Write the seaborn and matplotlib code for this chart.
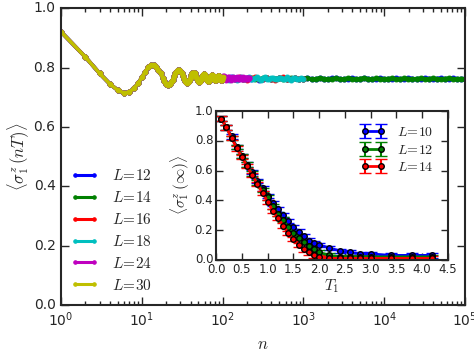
import numpy as np
import matplotlib
matplotlib.use("Agg")
import matplotlib.pyplot as plt
import seaborn as sns

# main panel: early-time curve (n = 1..100), same for every L
n_early = np.arange(1, 101)
sigma_early = [
    0.920, 0.835, 0.780, 0.745, 0.724, 0.714, 0.718, 0.730, 0.747, 0.767,
    0.786, 0.801, 0.809, 0.809, 0.803, 0.793, 0.780, 0.766, 0.753, 0.745,
    0.742, 0.744, 0.750, 0.759, 0.770, 0.780, 0.787, 0.791, 0.791, 0.788,
    0.781, 0.772, 0.763, 0.755, 0.750, 0.748, 0.750, 0.754, 0.760, 0.767,
    0.774, 0.780, 0.783, 0.783, 0.780, 0.775, 0.769, 0.763, 0.757, 0.753,
    0.752, 0.753, 0.756, 0.761, 0.766, 0.771, 0.775, 0.778, 0.778, 0.776,
    0.772, 0.768, 0.763, 0.759, 0.756, 0.755, 0.756, 0.758, 0.762, 0.766,
    0.770, 0.773, 0.775, 0.775, 0.773, 0.771, 0.767, 0.763, 0.760, 0.758,
    0.757, 0.758, 0.760, 0.762, 0.766, 0.769, 0.771, 0.773, 0.773, 0.771,
    0.769, 0.765, 0.763, 0.760, 0.759, 0.758, 0.759, 0.761, 0.764, 0.767,
]

# late-time tails
tail_L12 = [
    0.763, 0.767, 0.760, 0.762, 0.766, 0.761, 0.763, 0.765, 0.759, 0.763,
    0.765, 0.762, 0.760, 0.764, 0.766, 0.761, 0.762, 0.764, 0.760, 0.763,
    0.765, 0.762, 0.761, 0.764, 0.762, 0.760, 0.764, 0.765, 0.762, 0.761,
    0.763, 0.765, 0.762, 0.761, 0.764, 0.763, 0.761, 0.762, 0.765, 0.762,
    0.761, 0.763, 0.764, 0.762, 0.761, 0.764, 0.763, 0.761, 0.762, 0.764,
    0.763, 0.762, 0.763, 0.764, 0.761, 0.763, 0.764, 0.762, 0.762, 0.763,
]
tail_L14 = [
    0.765, 0.761, 0.763, 0.766, 0.760, 0.762, 0.765, 0.763, 0.760, 0.764,
    0.766, 0.761, 0.762, 0.765, 0.762, 0.760, 0.764, 0.765, 0.761, 0.763,
    0.764, 0.761, 0.762, 0.765, 0.763, 0.761, 0.763, 0.764, 0.761, 0.762,
    0.764, 0.763, 0.761, 0.763, 0.765, 0.762, 0.761, 0.764, 0.763, 0.762,
    0.763, 0.764, 0.761, 0.762, 0.764, 0.763, 0.761, 0.763, 0.764, 0.762,
    0.762, 0.764, 0.762, 0.761, 0.763, 0.764, 0.762, 0.762, 0.763, 0.762,
]
tail_L16 = [
    0.766, 0.760, 0.763, 0.768, 0.761, 0.759, 0.765, 0.767, 0.760, 0.762,
    0.766, 0.763, 0.759, 0.764, 0.767, 0.761, 0.762, 0.765, 0.763, 0.760,
]
tail_L18 = [
    0.768, 0.762, 0.759, 0.765, 0.769, 0.763, 0.758, 0.764, 0.768, 0.762,
    0.760, 0.766, 0.767, 0.761, 0.760, 0.765, 0.768, 0.763, 0.759, 0.764,
    0.767, 0.762, 0.760, 0.765, 0.766, 0.761, 0.761, 0.766, 0.764, 0.760,
    0.763, 0.767, 0.762, 0.759, 0.764, 0.766, 0.761, 0.762, 0.765, 0.763,
]
n_tail_L24 = np.arange(102, 216, 3)
tail_L24 = [
    0.770, 0.770, 0.764, 0.758, 0.760, 0.767, 0.769, 0.765, 0.759, 0.760,
    0.766, 0.769, 0.764, 0.760, 0.761, 0.766, 0.768, 0.764, 0.760, 0.761,
    0.766, 0.767, 0.764, 0.761, 0.762, 0.766, 0.767, 0.764, 0.761, 0.762,
    0.765, 0.766, 0.764, 0.762, 0.762, 0.765, 0.766, 0.764,
]

sizes = [12, 14, 16, 18, 24, 30]
colors = ["b", "g", "r", "c", "m", "y"]
tails = {12: (1e5, tail_L12), 14: (1e5, tail_L14), 16: (1e3, tail_L16),
         18: (1e3, tail_L18)}

# inset: infinite-time value vs T1
T1 = [0.1, 0.2, 0.3, 0.4, 0.5, 0.6, 0.7, 0.8, 0.9, 1.0,
      1.1, 1.2, 1.3, 1.4, 1.5, 1.6, 1.7, 1.8, 1.9, 2.0,
      2.2, 2.4, 2.6, 2.8, 3.0, 3.4, 3.8, 4.2]
inf_L10 = [0.95, 0.89, 0.83, 0.76, 0.70, 0.64, 0.59, 0.53, 0.48, 0.43,
           0.38, 0.34, 0.30, 0.26, 0.22, 0.19, 0.16, 0.13, 0.11, 0.10,
           0.08, 0.06, 0.05, 0.04, 0.04, 0.03, 0.03, 0.03]
inf_L12 = [0.95, 0.89, 0.82, 0.76, 0.70, 0.64, 0.58, 0.52, 0.47, 0.42,
           0.36, 0.31, 0.27, 0.22, 0.18, 0.15, 0.12, 0.09, 0.07, 0.05,
           0.03, 0.02, 0.02, 0.02, 0.02, 0.02, 0.02, 0.02]
inf_L14 = [0.95, 0.89, 0.82, 0.75, 0.69, 0.63, 0.57, 0.51, 0.45, 0.39,
           0.33, 0.28, 0.23, 0.18, 0.14, 0.10, 0.07, 0.05, 0.03, 0.02,
           0.01, 0.01, 0.01, 0.01, 0.01, 0.01, 0.01, 0.01]
err = 0.015
inset_sizes = [10, 12, 14]
inset_colors = ["b", "g", "r"]

plt.style.use("classic")
sns.set_style("ticks", {"xtick.direction": "in", "ytick.direction": "in"})
plt.rcParams["font.family"] = ["DejaVu Sans"]
plt.rcParams["mathtext.fontset"] = "cm"

fig = plt.figure(figsize=(4.74, 3.55), dpi=100, facecolor="white")
ax = fig.add_axes([0.129, 0.141, 0.852, 0.836])

for L, c in zip(sizes, colors):
    if L in tails:
        nmax, vals = tails[L]
        n_t = np.geomspace(100, nmax, len(vals) + 1)[1:]
    elif L == 24:
        n_t, vals = n_tail_L24, tail_L24
    else:
        n_t, vals = [], []
    n_all = np.concatenate([n_early, n_t])
    v_all = np.concatenate([sigma_early, vals])
    sns.lineplot(x=n_all, y=v_all, ax=ax, color=c, lw=2.6, marker=".",
                 markersize=7, markeredgecolor=c, sort=False,
                 label=rf"$L\!=\!{L}$")

ax.set_xscale("log")
ax.set_xlim(1, 1e5)
ax.set_ylim(0, 1.0)
ax.set_yticks([0.0, 0.2, 0.4, 0.6, 0.8, 1.0])
ax.tick_params(which="both", direction="in", top=True, right=True,
               labelsize=10)
ax.tick_params(which="major", length=6, width=1)
ax.tick_params(which="minor", length=3, width=1)
for s in ax.spines.values():
    s.set_linewidth(1.5)
ax.set_xlabel(r"$n$", fontsize=12, labelpad=4)
ax.set_ylabel(r"$\langle\sigma_1^z\,(nT)\rangle$", fontsize=12, labelpad=2)
leg = ax.legend(loc="lower left", bbox_to_anchor=(-0.01, -0.005),
                frameon=False, fontsize=11, numpoints=2, handlelength=1.8,
                handletextpad=0.9, labelspacing=0.45)
for h in leg.get_lines():
    h.set_linewidth(2.2)
    h.set_markersize(5)

# inset
ins = fig.add_axes([0.456, 0.268, 0.489, 0.419])
for L, c, vals in zip(inset_sizes, inset_colors, [inf_L10, inf_L12, inf_L14]):
    ins.errorbar(T1, vals, yerr=err, color=c, ecolor=c, lw=2,
                 marker="o", markersize=4, markerfacecolor=c,
                 markeredgecolor="k", markeredgewidth=1, capsize=4,
                 capthick=1.5, elinewidth=1.5, label=rf"$L\!=\!{L}$")
ins.set_xlim(0, 4.5)
ins.set_ylim(0, 1.0)
ins.set_xticks(np.arange(0, 4.51, 0.5))
ins.set_yticks([0.0, 0.2, 0.4, 0.6, 0.8, 1.0])
ins.tick_params(direction="in", top=True, right=True, labelsize=8.5,
                length=5, width=1, pad=2)
for s in ins.spines.values():
    s.set_linewidth(1.5)
ins.set_xlabel(r"$T_1$", fontsize=11, labelpad=1)
ins.set_ylabel(r"$\langle\sigma_1^z\,(\infty)\rangle$", fontsize=11,
               labelpad=2)
ins.legend(loc="upper right", bbox_to_anchor=(0.99, 0.99), frameon=False,
           fontsize=10, numpoints=2, handlelength=1.8, handletextpad=0.8,
           labelspacing=0.25)

fig.savefig("out.png", dpi=100, facecolor="white")
